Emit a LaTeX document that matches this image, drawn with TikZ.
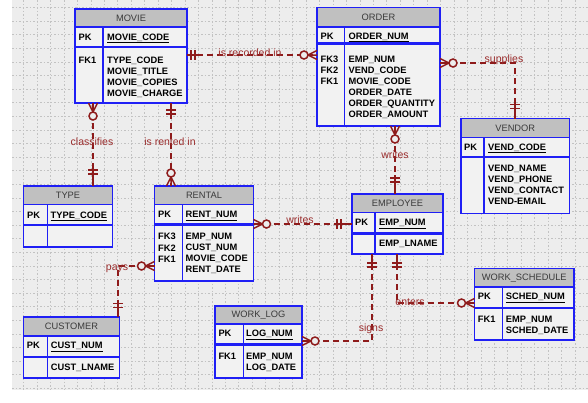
\documentclass[tikz,border=0pt]{standalone}
\usepackage{fontspec}
\setmainfont{Liberation Sans}
\usetikzlibrary{calc}
\definecolor{bgc}{HTML}{EDEDED}
\definecolor{gridc}{HTML}{C2C2C2}
\definecolor{relc}{HTML}{8E1B1B}
\definecolor{labc}{HTML}{9A2C2C}
\definecolor{boxc}{HTML}{1F1FF5}
\definecolor{headc}{HTML}{C0C0C0}
\definecolor{bodyc}{HTML}{F2F2F2}
\definecolor{headtxt}{HTML}{3A3A3A}
\tikzset{
 ebox/.style={fill=bodyc, inner sep=0pt, outer sep=0pt, anchor=north west},
 eline/.style={draw=boxc, line width=1.4pt},
 htxt/.style={font=\fontsize{9.3}{11}\selectfont, text=headtxt, inner sep=0pt},
 ctxt/.style={font=\fontsize{9.3}{11}\selectfont\bfseries, inner sep=0pt, anchor=base west},
 btxt/.style={font=\fontsize{9.3}{11}\selectfont\bfseries, inner sep=0pt, anchor=north west, align=left},
 rel/.style={draw=relc, line width=1.9pt, dash pattern=on 6pt off 4pt},
 relsolid/.style={draw=relc, line width=1.5pt},
 lab/.style={font=\fontsize{10.5}{12}\selectfont, text=labc, inner sep=0pt, anchor=base},
 gridl/.style={draw=gridc, line width=0.5pt, dash pattern=on 1.5pt off 2pt},
}
% #1 name #2 left #3 top #4 right #5 bottom #6 header bottom #7 pk bottom #8 divider x #9 title
\newcommand{\entity}[9]{%
 \node[ebox, minimum width={(#4-#2)*1pt}, minimum height={(#5-#3)*1pt}] (#1) at (#2,#3) {};
 \fill[headc] (#2,#3) rectangle (#4,#6);
 \draw[eline] (#2,#6) -- (#4,#6);
 \draw[eline, line width=2.2pt] (#2,#7) -- (#4,#7);
 \draw[eline] (#8,#6) -- (#8,#5);
 \draw[eline] (#1.north west) rectangle (#1.south east);
 \node[htxt] (#1-title) at ({(#2+#4)/2},{(#3+#6)/2}) {#9};
}
% one-and-only-one marker: #1 point, #2 angle, #3 first bar distance
\newcommand{\onemark}[3]{%
 \begin{scope}[shift={(#1)}, rotate=#2]
  \draw[relsolid] (0,0) -- ({#3+7},0);
  \draw[relsolid] (#3,-5) -- (#3,5) ({#3+4},-5) -- ({#3+4},5);
 \end{scope}}
% zero-or-many marker: #1 point, #2 angle
\newcommand{\manymark}[2]{%
 \begin{scope}[shift={(#1)}, rotate=#2]
  \draw[relsolid] (0,-4.5) -- (9,0) -- (0,4.5) (0,0) -- (9,0);
  \draw[relsolid, fill=bgc] (13,0) circle (4);
 \end{scope}}
\begin{document}
\begin{tikzpicture}[x=1pt,y=-1pt]
\useasboundingbox (0,0) rectangle (588,402);
\fill[bgc] (12,0) rectangle (588,390);
\foreach \i in {0,...,42} { \draw[gridl] ({23.5+13.45*\i},0) -- ({23.5+13.45*\i},390); }
\foreach \i in {0,...,28} { \draw[gridl] (12,{7.5+13.6*\i}) -- (588,{7.5+13.6*\i}); }

% entities
\entity{movie}{75}{9}{187}{103}{27}{47}{103}{MOVIE}
\entity{order}{317}{7.5}{440}{126}{27}{43.5}{344.5}{ORDER}
\entity{vendor}{461}{118.5}{569.5}{213.5}{137.5}{157}{484}{VENDOR}
\entity{type}{23.5}{186}{112.5}{247}{204.5}{225}{47.5}{TYPE}
\entity{rental}{154.5}{186}{253.5}{281}{204.5}{224.5}{182.5}{RENTAL}
\entity{employee}{352}{194}{443}{254}{212.5}{233.5}{375}{EMPLOYEE}
\entity{worksched}{474.5}{268.5}{574}{340}{287}{308}{502.5}{WORK\_SCHEDULE}
\entity{customer}{23.5}{317}{119.5}{378}{336}{357}{47.5}{CUSTOMER}
\entity{worklog}{215}{306}{302}{378}{324}{344.5}{243.5}{WORK\_LOG}

% entity texts
\node[ctxt] (movie-pk) at (78.5,40) {PK};
\node[ctxt] (movie-pka) at (107,40) {\underline{MOVIE\_CODE}};
\node[btxt] (movie-fk) at (78.5,56.5) {FK1};
\node[btxt] (movie-at) at (107,56.5) {TYPE\_CODE\\MOVIE\_TITLE\\MOVIE\_COPIES\\MOVIE\_CHARGE};

\node[ctxt] (order-pk) at (320.5,39) {PK};
\node[ctxt] (order-pka) at (348.5,39) {\underline{ORDER\_NUM}};
\node[btxt] (order-fk) at (320.5,56) {FK3\\FK2\\FK1};
\node[btxt] (order-at) at (348.5,56) {EMP\_NUM\\VEND\_CODE\\MOVIE\_CODE\\ORDER\_DATE\\ORDER\_QUANTITY\\ORDER\_AMOUNT};

\node[ctxt] (vendor-pk) at (464,150) {PK};
\node[ctxt] (vendor-pka) at (488,150) {\underline{VEND\_CODE}};
\node[btxt] (vendor-at) at (488,165) {VEND\_NAME\\VEND\_PHONE\\VEND\_CONTACT\\VEND-EMAIL};

\node[ctxt] (type-pk) at (27,218) {PK};
\node[ctxt] (type-pka) at (50.5,218) {\underline{TYPE\_CODE}};

\node[ctxt] (rental-pk) at (158,217.5) {PK};
\node[ctxt] (rental-pka) at (185.5,217.5) {\underline{RENT\_NUM}};
\node[btxt] (rental-fk) at (158,233.3) {FK3\\FK2\\FK1};
\node[btxt] (rental-at) at (185.5,233.3) {EMP\_NUM\\CUST\_NUM\\MOVIE\_CODE\\RENT\_DATE};

\node[ctxt] (employee-pk) at (355,225.7) {PK};
\node[ctxt] (employee-pka) at (379,225.7) {\underline{EMP\_NUM}};
\node[btxt] (employee-at) at (379,240) {EMP\_LNAME};

\node[ctxt] (worksched-pk) at (477.7,299.5) {PK};
\node[ctxt] (worksched-pka) at (505.7,299.5) {\underline{SCHED\_NUM}};
\node[btxt] (worksched-fk) at (477.7,315.7) {FK1};
\node[btxt] (worksched-at) at (505.7,315.7) {EMP\_NUM\\SCHED\_DATE};

\node[ctxt] (customer-pk) at (26.7,348.5) {PK};
\node[ctxt] (customer-pka) at (50.7,348.5) {\underline{CUST\_NUM}};
\node[btxt] (customer-at) at (50.7,363.3) {CUST\_LNAME};

\node[ctxt] (worklog-pk) at (218.3,336.7) {PK};
\node[ctxt] (worklog-pka) at (246,336.7) {\underline{LOG\_NUM}};
\node[btxt] (worklog-fk) at (218.3,352.7) {FK1};
\node[btxt] (worklog-at) at (246,352.7) {EMP\_NUM\\LOG\_DATE};

% relationships
\draw[rel] (movie.east |- 0,55) -- (order.west |- 0,55);
\onemark{movie.east |- 0,55}{0}{4}
\manymark{order.west |- 0,55}{180}

\draw[rel] (order.east |- 0,63) -- (515,63) -- (vendor.north -| 515,0);
\manymark{order.east |- 0,63}{0}
\onemark{vendor.north -| 515,0}{90}{10}

\draw[rel] (movie.south -| 93,0) -- (type.north -| 93,0);
\manymark{movie.south -| 93,0}{-90}
\onemark{type.north -| 93,0}{90}{12}

\draw[rel] (movie.south -| 171,0) -- (rental.north -| 171,0);
\onemark{movie.south -| 171,0}{-90}{7}
\manymark{rental.north -| 171,0}{90}

\draw[rel] (rental.east |- 0,224) -- (employee.west |- 0,224);
\manymark{rental.east |- 0,224}{0}
\onemark{employee.west |- 0,224}{180}{11}

\draw[rel] (order.south -| 395,0) -- (employee.north -| 395,0);
\manymark{order.south -| 395,0}{-90}
\onemark{employee.north -| 395,0}{90}{12}

\draw[rel] (rental.west |- 0,266) -- (118,266) -- (customer.north -| 118,0);
\manymark{rental.west |- 0,266}{180}
\onemark{customer.north -| 118,0}{90}{9.5}

\draw[rel] (employee.south -| 372,0) -- (372,341) -- (worklog.east |- 0,341);
\onemark{employee.south -| 372,0}{-90}{9}
\manymark{worklog.east |- 0,341}{0}

\draw[rel] (employee.south -| 397,0) -- (397,303) -- (worksched.west |- 0,303);
\onemark{employee.south -| 397,0}{-90}{9}
\manymark{worksched.west |- 0,303}{180}

% labels
\node[lab] (l-rec) at (250,56) {is recorded in};
\node[lab] (l-sup) at (504,62) {supplies};
\node[lab] (l-cla) at (92,145) {classifies};
\node[lab] (l-ren) at (170,145) {is rented in};
\node[lab] (l-wr1) at (300,223.5) {writes};
\node[lab] (l-wr2) at (395,158) {writes};
\node[lab] (l-pay) at (117,270) {pays};
\node[lab] (l-sig) at (371,331) {signs};
\node[lab] (l-ent) at (410,305) {enters};
\end{tikzpicture}
\end{document}
